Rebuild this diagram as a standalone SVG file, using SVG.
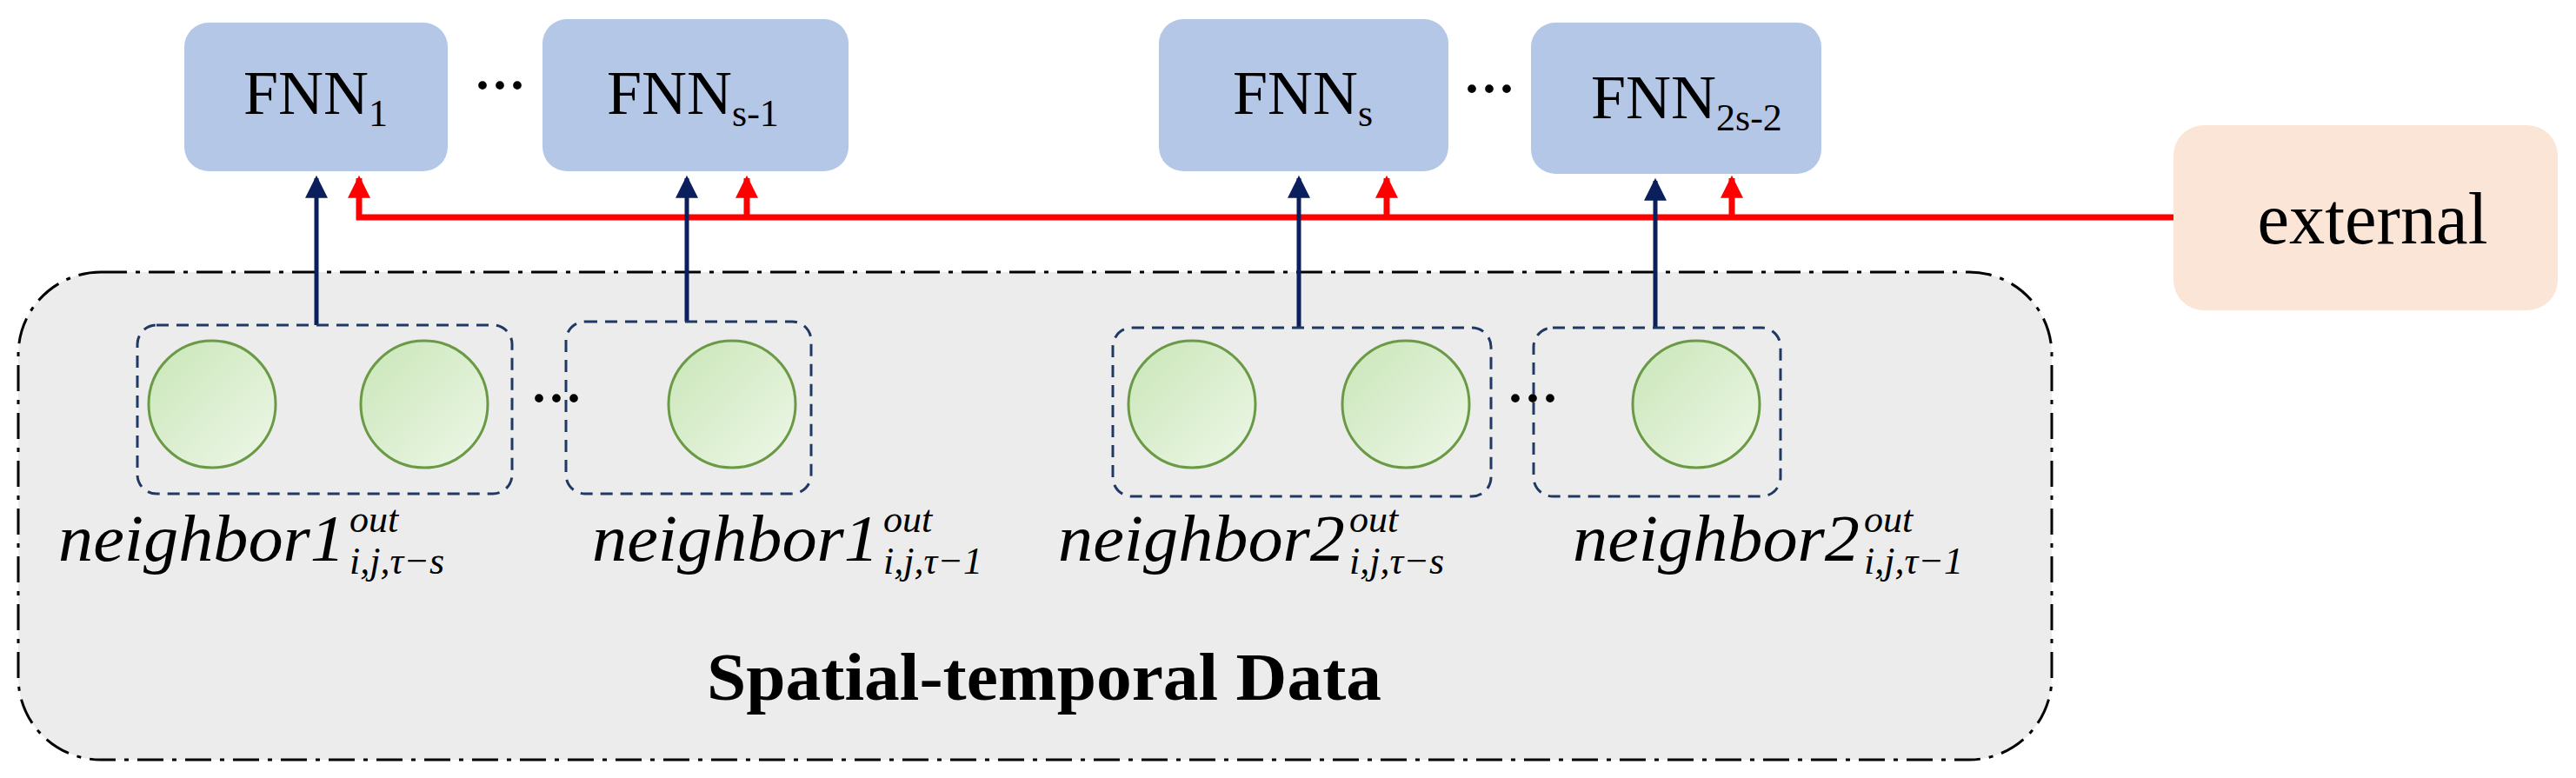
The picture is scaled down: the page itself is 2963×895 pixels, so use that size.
<svg xmlns="http://www.w3.org/2000/svg" width="2963" height="895" viewBox="0 0 2963 895">
<style>
.fnn{fill:#b4c7e7}
.ft{font-family:"Liberation Serif",serif;font-size:72px;fill:#000}
.sub{font-size:44px}
.db{fill:none;stroke:#1f3864;stroke-width:3;stroke-dasharray:14 9}
.c{fill:url(#g);stroke:#6a9a45;stroke-width:3}
.lb{font-family:"Liberation Serif",serif;font-style:italic;font-size:76px;fill:#000}
.ls{font-size:44px}
.dots{font-family:"Liberation Serif",serif;font-size:60px;font-weight:bold}
.nv{stroke:#0b1f5c;stroke-width:5;fill:none}
.rd{stroke:#ff0000;stroke-width:7;fill:none}
</style>
<defs>
<linearGradient id="g" x1="0" y1="0" x2="1" y2="1"><stop offset="0" stop-color="#c9e6b8"/><stop offset="1" stop-color="#eef7e8"/></linearGradient>
<marker id="an" markerWidth="8" markerHeight="8" refX="4" refY="4" orient="auto" markerUnits="userSpaceOnUse" viewBox="0 0 8 8"><path d="M0,0 L8,4 L0,8z" fill="#0b1f5c"/></marker>
<marker id="ar" viewBox="0 0 8 8" refX="7" refY="4" markerWidth="30" markerHeight="26" orient="auto" markerUnits="userSpaceOnUse"><path d="M0,0 L8,4 L0,8z" fill="#ff0000"/></marker>
<marker id="ab" viewBox="0 0 8 8" refX="7" refY="4" markerWidth="30" markerHeight="26" orient="auto" markerUnits="userSpaceOnUse"><path d="M0,0 L8,4 L0,8z" fill="#0b1f5c"/></marker>
</defs>
<g id="container">
<rect x="21" y="313" width="2339" height="561" rx="95" fill="#ececec" stroke="#000" stroke-width="3" stroke-dasharray="30 10 5 10"/>
<text x="813" y="805" font-family="Liberation Serif,serif" font-weight="bold" font-size="78" textLength="776" lengthAdjust="spacingAndGlyphs">Spatial-temporal Data</text>
</g>
<g id="connectors">
<path class="rd" d="M2500,250 L413,250 L413,205" marker-end="url(#ar)"/>
<path class="rd" d="M859,250 V205" marker-end="url(#ar)"/>
<path class="rd" d="M1595,250 V205" marker-end="url(#ar)"/>
<path class="rd" d="M1992,250 V205" marker-end="url(#ar)"/>
<path class="nv" d="M364,374 V205" marker-end="url(#ab)"/>
<path class="nv" d="M790,370 V205" marker-end="url(#ab)"/>
<path class="nv" d="M1494,377 V205" marker-end="url(#ab)"/>
<path class="nv" d="M1904,377 V208" marker-end="url(#ab)"/>
</g>
<g id="fnn1"><rect class="fnn" x="212" y="26" width="303" height="171" rx="28"/><text class="ft" x="280" y="131">FNN<tspan class="sub" dy="14">1</tspan></text></g>
<text class="dots" x="545" y="118">···</text>
<g id="fnns-1"><rect class="fnn" x="624" y="22" width="352" height="175" rx="28"/><text class="ft" x="698" y="131">FNN<tspan class="sub" dy="14">s-1</tspan></text></g>
<g id="fnns"><rect class="fnn" x="1333" y="22" width="333" height="175" rx="28"/><text class="ft" x="1418" y="131">FNN<tspan class="sub" dy="14">s</tspan></text></g>
<text class="dots" x="1683" y="122">···</text>
<g id="fnn2s-2"><rect class="fnn" x="1761" y="26" width="334" height="174" rx="28"/><text class="ft" x="1830" y="136">FNN<tspan class="sub" dy="14">2s-2</tspan></text></g>
<g id="external"><rect x="2500" y="144" width="442" height="213" rx="35" fill="#fbe5d6"/><text x="2729" y="280" text-anchor="middle" font-family="Liberation Serif,serif" font-size="84" textLength="265" lengthAdjust="spacingAndGlyphs">external</text></g>
<g id="group1"><rect class="db" x="158" y="374" width="431" height="194" rx="22"/><circle class="c" cx="244" cy="465" r="73"/><circle class="c" cx="488" cy="465" r="73"/></g>
<text class="dots" x="610" y="478">···</text>
<g id="group2"><rect class="db" x="651" y="370" width="282" height="198" rx="22"/><circle class="c" cx="842" cy="465" r="73"/></g>
<g id="group3"><rect class="db" x="1280" y="377" width="435" height="194" rx="22"/><circle class="c" cx="1371" cy="465" r="73"/><circle class="c" cx="1617" cy="465" r="73"/></g>
<text class="dots" x="1733" y="478">···</text>
<g id="group4"><rect class="db" x="1764" y="377" width="284" height="194" rx="22"/><circle class="c" cx="1951" cy="465" r="73"/></g>
<g id="labels">
<text class="lb" x="67" y="645"><tspan textLength="330" lengthAdjust="spacingAndGlyphs">neighbor1</tspan><tspan class="ls" x="402" y="612">out</tspan><tspan class="ls" x="402" y="660">i,j,τ−s</tspan></text>
<text class="lb" x="681" y="645"><tspan textLength="330" lengthAdjust="spacingAndGlyphs">neighbor1</tspan><tspan class="ls" x="1016" y="612">out</tspan><tspan class="ls" x="1016" y="660">i,j,τ−1</tspan></text>
<text class="lb" x="1217" y="645"><tspan textLength="330" lengthAdjust="spacingAndGlyphs">neighbor2</tspan><tspan class="ls" x="1552" y="612">out</tspan><tspan class="ls" x="1552" y="660">i,j,τ−s</tspan></text>
<text class="lb" x="1809" y="645"><tspan textLength="330" lengthAdjust="spacingAndGlyphs">neighbor2</tspan><tspan class="ls" x="2144" y="612">out</tspan><tspan class="ls" x="2144" y="660">i,j,τ−1</tspan></text>
</g>
</svg>
